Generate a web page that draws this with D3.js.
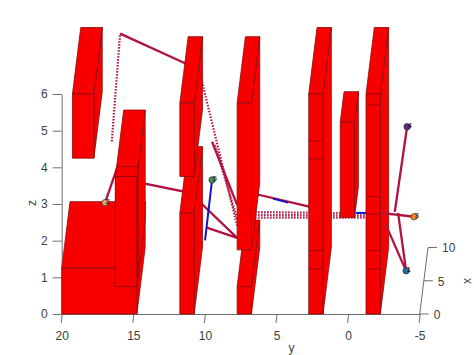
<!DOCTYPE html>
<html>
<head>
<meta charset="utf-8">
<script src="https://cdn.jsdelivr.net/npm/d3@7"></script>
<style>
    html, body { margin: 0; padding: 0; background: #fff; }
    svg { display: block; }
    text { font-family: "Liberation Sans", sans-serif; font-size: 12px; fill: #404040; }
</style>
</head>
<body>
<svg id="chart" width="474" height="355"></svg>
<script>
// boxes: [xFrom, xTo, yFrom, yTo, zFrom, zTo]
const boxes = [
    [0, 10, 19.25, 17.75, 4.25, 6],
    [0, 10, 20, 14.75, 0, 1.25],
    [0, 10, 16.25, 14.75, 0.75, 3.75],
    [0, 1.5, 16.25, 14.75, 0.75, 3.75],
    [0, 10, 11.75, 10.75, 0, 2.75],
    [0, 10, 11.75, 10.75, 3.75, 5.75],
    [0, 10, 7.75, 6.75, 0, 0.75],
    [0, 10, 7.75, 6.75, 1.75, 5.75],
    [0, 10, 2.75, 1.75, 0, 6],
    [0, 4.6, 0.55, -0.45, 2.63, 5.23],
    [0, 10, -1.25, -2.25, 0, 6]
];

// seams on the front of the long walls: [yFrom, yTo, z]
const seams = [
    [2.75, 1.75, 4.72], [2.75, 1.75, 4.23], [2.75, 1.75, 1.73], [2.75, 1.75, 1.23],
    [-1.25, -2.25, 5.7], [-1.25, -2.25, 3.2], [-1.25, -2.25, 2.72],
    [-1.25, -2.25, 1.73], [-1.25, -2.25, 1.23]
];

// paths as [y, z], all at x = 5
const solidPaths = [
    [[16.21, 6.74], [11.6, 5.92], [10.69, 5.75]],
    [[17.26, 2.13], [16.35, 3.16], [15.51, 2.73], [11.32, 2.4], [8.04, 1.17]],
    [[10.16, 1.45], [8.04, 1.17]],
    [[9.79, 3.79], [8.04, 2.07]],
    [[7.13, 2.4], [3.01, 2.02], [1.55, 1.83]]
];
// these run over the side of the last wall
const frontPaths = [
    [[-2.01, 1.85], [-4.32, 1.745]],
    [[-3.83, 4.2], [-2.97, 1.88]],
    [[-3.76, 0.27], [-3.2, 1.85]],
    [[-3.76, 0.27], [-2.34, 1.53]]
];
const dottedPaths = [
    [[16.79, 3.8], [16.21, 6.74]],
    [[10.69, 5.75], [8.04, 1.5]],
    [[9.6, 3.7], [8.04, 1.7]],
    [[7.83, 1.88], [-2.01, 1.83]],
    [[7.83, 1.8], [-2.01, 1.77]],
    [[7.83, 1.72], [-2.01, 1.72]]
];
const bluePaths = [
    [[9.79, 2.75], [10.28, 1.1]],
    [[5.53, 2.24], [4.48, 2.13]],
    [[-0.27, 1.85], [-0.97, 1.85]]
];

const markerY = [17.26, 9.79, -3.83, -4.32, -3.76];
const markerZ = [2.13, 2.75, 4.2, 1.745, 0.27];
const markerColors = ["#e8a070", "#4f8f5f", "#5b2d8e", "#f08a24", "#1f6fb0"];
const markerLabels = ["2", "5", "4", "3", "1"];

const yTicks = [20, 15, 10, 5, 0, -5];
const yTickLabels = ["20", "15", "10", "5", "0", "-5"];
const zTicks = [0, 1, 2, 3, 4, 5, 6];
const xTicks = [0, 5, 10];

const svg = d3.select("svg#chart");

const scaleY = d3.scaleLinear().domain([20, -5]).range([61.7, 419.7]);
const scaleZ = d3.scaleLinear().domain([0, 6]).range([314, 94]);
const scaleDepthX = d3.scaleLinear().domain([0, 10]).range([0, 8.3]);
const scaleDepthY = d3.scaleLinear().domain([0, 10]).range([0, -66.5]);

function project(x, y, z) {
    return [scaleY(y) + scaleDepthX(x), scaleZ(z) + scaleDepthY(x)];
}

const lineGen = d3.line();
const axisColor = "#6e6e6e";
const lineColor = "#b3123f";

function drawAxes() {
    const axisZ = d3.axisLeft(scaleZ).tickValues(zTicks).tickSizeInner(9).tickSizeOuter(0)
        .tickPadding(5).tickFormat(d3.format("d"));
    const gz = svg.append("g").attr("transform", "translate(61.7,0)").call(axisZ);

    const axisY = d3.axisBottom(scaleY).tickValues(yTicks).tickSizeInner(9).tickSizeOuter(0)
        .tickPadding(8).tickFormat((d, i) => yTickLabels[i]);
    const gy = svg.append("g").attr("transform", "translate(0,314)").call(axisY);
    gy.selectAll(".tick line").attr("x2", -1);

    // x axis runs into the picture from the end of the y axis
    const gx = svg.append("g");
    gx.append("path")
        .attr("d", lineGen([project(0, -5, 0), project(10, -5, 0)]))
        .attr("fill", "none");
    const tick = gx.selectAll(".tick").data(xTicks).enter().append("g")
        .attr("class", "tick")
        .attr("transform", d => `translate(${project(d, -5, 0)})`);
    tick.append("line").attr("x2", 9);
    tick.append("text").attr("x", 14).attr("dy", "0.4em").text(d => d);

    [gz, gy, gx].forEach(g => {
        g.selectAll("path").attr("stroke", axisColor).attr("stroke-width", 1);
        g.selectAll(".tick line").attr("stroke", axisColor);
        g.selectAll("text").style("font-size", "12px").attr("fill", "#404040");
    });

    svg.append("text").attr("transform", "translate(291.5,352)")
        .attr("text-anchor", "middle").text("y");
    svg.append("text").attr("transform", "translate(36,203) rotate(-90)")
        .attr("text-anchor", "middle").text("z");
    svg.append("text").attr("transform", "translate(471,281) rotate(-90)")
        .attr("text-anchor", "middle").text("x");
}

function drawPaths(data, color, width, dash) {
    svg.append("g").selectAll("path")
        .data(data)
        .enter()
        .append("path")
        .attr("d", d => lineGen(d.map(p => project(5, p[0], p[1]))))
        .attr("fill", "none")
        .attr("stroke", color)
        .attr("stroke-width", width)
        .attr("stroke-dasharray", dash);
}

function drawBoxes() {
    const faces = b => {
        const [x0, x1, y0, y1, z0, z1] = b;
        return [
            [[x0, y1, z0], [x1, y1, z0], [x1, y1, z1], [x0, y1, z1]],
            [[x0, y0, z1], [x0, y1, z1], [x1, y1, z1], [x1, y0, z1]],
            [[x0, y0, z0], [x0, y1, z0], [x0, y1, z1], [x0, y0, z1]]
        ];
    };
    svg.append("g").selectAll("path")
        .data(boxes.flatMap(faces))
        .enter()
        .append("path")
        .attr("d", d => lineGen(d.map(p => project(p[0], p[1], p[2]))) + "Z")
        .attr("fill", "#f80000")
        .attr("stroke", "#8c0a0a")
        .attr("stroke-width", 0.8);

    svg.append("g").selectAll("path")
        .data(seams)
        .enter()
        .append("path")
        .attr("d", d => lineGen([project(0, d[0], d[2]), project(0, d[1], d[2])]))
        .attr("stroke", "#8c0a0a")
        .attr("stroke-width", 0.8);
}

function drawMarkers() {
    const g = svg.append("g").selectAll("g")
        .data(markerY)
        .enter()
        .append("g")
        .attr("transform", (d, i) => `translate(${project(5, d, markerZ[i])})`);
    g.append("circle")
        .attr("r", 3.2)
        .attr("fill", (d, i) => markerColors[i])
        .attr("stroke", "#1c1c1c")
        .attr("stroke-width", 0.6);
    g.append("text")
        .attr("x", 0.5)
        .attr("y", 1)
        .style("font-size", "8px")
        .style("fill", "#111")
        .text((d, i) => markerLabels[i]);
}

drawAxes();
drawPaths(dottedPaths, lineColor, 2.2, "1.5 1.5");
drawPaths(solidPaths, lineColor, 2.3, null);
drawPaths(bluePaths, "#1414c8", 2, null);
drawBoxes();
drawPaths(frontPaths, lineColor, 2.3, null);
drawMarkers();
</script>
</body>
</html>
